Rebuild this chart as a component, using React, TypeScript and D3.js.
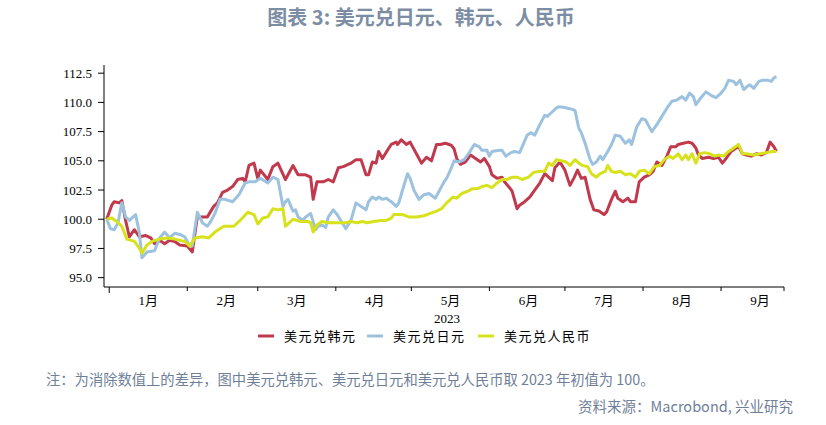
import React, {useEffect} from "react"
import * as d3 from "d3"

// days counted from 2022-12-31, values indexed to 100 at start of 2023
const krwDays = [0, 2, 3, 5, 6, 7.5, 9, 11, 13, 15.5, 17.5, 19, 21, 23, 25, 27, 29, 32, 34, 36, 38, 40, 42.5, 44, 46, 48, 50, 52, 54, 55, 56.5, 58.5, 60, 61, 64, 66, 68, 71, 74, 76, 79, 81, 82, 83.5, 86, 88, 90, 92, 94, 97, 99, 101, 103, 104, 105.5, 107, 108, 109.5, 111.5, 113, 115, 115.5, 117, 119, 120.5, 123, 125, 127, 129, 131, 132.5, 134.5, 136, 137, 138, 139, 140.5, 142.5, 144.5, 146.5, 148.5, 150, 152, 153, 155, 157, 158, 160, 161, 163, 164, 166, 168, 170, 172, 174, 175.5, 177, 178, 180, 182, 184, 185.5, 187, 188.5, 190, 192, 193.5, 195.5, 197.5, 198.5, 200.5, 202, 203, 205, 207, 208, 210, 211.5, 213.5, 215.5, 217, 218.5, 220.5, 222.5, 224, 226, 227, 229, 231, 232.5, 234, 235, 236.5, 239, 241, 243, 244.5, 246, 248, 250, 251, 252.5, 254, 256, 258, 260, 262, 263.5, 265, 266]
const krwValues = [100, 101.2, 101.5, 101.4, 101.6, 99.9, 98.5, 99.1, 98.5, 98.6, 98.4, 97.9, 98.2, 97.9, 98.2, 98.1, 97.8, 97.7, 97.2, 100.2, 100.2, 100.2, 101.1, 101.4, 102.3, 102.5, 102.8, 103.4, 103.5, 103.2, 104.6, 104.8, 103.5, 104.2, 103.4, 104.5, 104.8, 103.4, 104.6, 103.8, 103.8, 103.6, 101.7, 103.2, 103.2, 103.4, 103.2, 104.4, 104.5, 104.8, 105.1, 105.1, 103.8, 103.8, 104.9, 104.8, 105.8, 105.2, 105.9, 106.4, 106.6, 106.4, 106.8, 106.4, 106.6, 105.6, 104.8, 105.3, 105.0, 106.4, 106.4, 106.5, 106.4, 106.3, 106.0, 105.2, 104.7, 104.9, 105.5, 105.2, 104.9, 105.2, 104.5, 103.8, 103.5, 103.6, 103.2, 102.7, 102.4, 100.9, 101.2, 101.5, 101.9, 102.5, 103.1, 103.9, 103.6, 103.3, 104.4, 104.9, 104.2, 102.9, 103.5, 104.2, 103.5, 103.6, 101.7, 100.8, 100.7, 100.4, 100.6, 101.7, 102.4, 101.8, 101.5, 101.8, 101.5, 101.5, 103.2, 103.6, 103.8, 104.1, 104.9, 104.6, 105.4, 106.2, 106.2, 106.4, 106.5, 106.6, 106.5, 106.1, 105.5, 105.2, 105.3, 105.2, 105.3, 104.8, 105.2, 105.8, 106.1, 106.2, 105.6, 105.5, 105.4, 105.6, 105.5, 105.7, 106.6, 106.2, 105.8]

const jpyDays = [0, 1.5, 3, 4.5, 6, 7.5, 9, 11.5, 13, 14, 16, 19, 21, 23, 25, 27, 29, 31, 33, 34, 36, 38, 40, 41, 43, 45, 47, 50, 52.5, 55, 56.5, 59, 61, 64, 66, 68, 70, 71, 72, 74, 75, 76, 78, 79, 81, 82, 83, 84, 85.5, 87, 88, 90, 91.5, 93.5, 95, 97, 99, 101, 103, 104, 105.5, 107, 108, 109.5, 111, 113, 115, 116, 117.5, 119.5, 120.5, 122, 124, 126, 128, 130.5, 132.5, 134, 135, 136.5, 138, 140, 142, 144, 146, 148, 149, 151, 152, 153, 156, 157, 158.5, 160.5, 162, 164, 165, 167, 168.5, 170, 172, 174, 175, 177, 179, 181, 183, 185, 186, 187.5, 188.5, 190, 192, 193, 194.5, 196, 197, 199, 200.5, 202, 204, 206, 207.5, 208.5, 210.5, 212.5, 214, 216.5, 218.5, 220.5, 222.5, 224.5, 226.5, 228.5, 230, 231.5, 233, 234, 236, 238, 240, 242, 244, 245.5, 247, 249, 250, 251.5, 253, 254.5, 255.5, 257, 259, 260.5, 262.5, 264, 265, 266]
const jpyValues = [100, 99.2, 99.1, 99.7, 101.4, 100.2, 99.9, 100.4, 98.8, 96.7, 97.2, 97.3, 98.4, 98.9, 98.4, 98.8, 98.7, 98.5, 97.7, 97.7, 100.6, 99.7, 99.4, 99.7, 100.5, 101.7, 101.7, 101.5, 102.1, 103.1, 103.2, 103.2, 103.5, 103.1, 103.6, 103.4, 101.1, 101.5, 101.7, 100.7, 100.8, 100.2, 99.9, 100.2, 100.5, 99.8, 99.1, 99.4, 99.5, 99.3, 100.2, 100.8, 100.4, 99.7, 99.2, 99.9, 101.4, 101.1, 100.8, 101.5, 101.9, 101.7, 101.9, 101.7, 101.8, 101.5, 101.1, 101.4, 102.5, 103.9, 103.5, 102.5, 101.7, 102.1, 102.2, 101.8, 102.6, 103.2, 103.5, 104.2, 105.0, 104.9, 105.1, 105.7, 106.4, 106.2, 105.9, 105.9, 105.4, 105.8, 105.9, 105.9, 105.4, 105.7, 105.8, 105.7, 106.2, 107.2, 107.4, 107.2, 108.1, 108.9, 108.8, 109.2, 109.6, 109.6, 109.5, 109.4, 109.3, 107.8, 107.4, 106.5, 105.1, 104.7, 104.9, 105.4, 105.1, 105.8, 106.4, 107.2, 107.1, 106.5, 106.8, 106.4, 107.9, 108.6, 108.5, 107.5, 108.1, 108.8, 109.5, 110.1, 110.2, 110.5, 110.2, 110.8, 110.5, 109.8, 110.4, 110.9, 110.6, 110.4, 110.8, 111.2, 111.9, 111.8, 111.5, 111.9, 111.1, 111.4, 111.5, 111.2, 111.8, 111.9, 111.9, 111.8, 112.1, 112.2]

const cnyDays = [0, 2, 4, 6, 8, 11, 13, 14, 16, 18, 21, 24, 27, 31, 33, 35, 38, 40.5, 43, 46.5, 50.5, 53, 56, 58.5, 60, 62, 64, 66, 68, 70, 71, 72, 74, 77, 80, 81, 82, 83.5, 85.5, 88, 91.5, 95, 97, 99.5, 101.5, 103.5, 106, 109, 111, 113, 114, 117.5, 120, 123, 126, 128.5, 131, 133, 135, 137.5, 139, 141, 143.5, 145, 147, 149, 151, 153, 155, 157, 159, 161, 163, 165, 167.5, 169.5, 172, 174, 175.5, 177, 178.5, 180.5, 182.5, 184, 186, 187.5, 189, 191, 192.5, 194.5, 196, 198, 199, 200.5, 202, 204, 206, 208, 210, 211.5, 213.5, 215.5, 217.5, 219.5, 221.5, 223.5, 225, 227, 228.5, 230, 231, 232.5, 234, 235.5, 237.5, 239.5, 241.5, 243, 245, 247, 249, 251, 252.5, 254, 257, 259.5, 262, 264.5, 266]
const cnyValues = [100, 100.1, 99.8, 99.4, 98.3, 98.1, 97.5, 97.1, 97.8, 98.1, 98.3, 98.4, 98.3, 98.1, 97.7, 98.4, 98.5, 98.4, 98.9, 99.4, 99.4, 99.9, 100.6, 100.4, 99.6, 100.1, 100.2, 100.9, 100.8, 100.9, 99.4, 99.6, 100.0, 99.8, 99.8, 99.7, 98.9, 99.5, 99.8, 99.7, 99.7, 99.7, 99.8, 99.7, 99.8, 99.7, 99.8, 99.9, 99.9, 100.1, 100.4, 100.4, 100.2, 100.2, 100.3, 100.5, 100.7, 100.9, 101.4, 101.9, 101.8, 102.2, 102.4, 102.6, 102.6, 102.8, 102.9, 102.7, 103.1, 103.4, 103.4, 103.6, 103.6, 103.4, 103.6, 104.0, 104.1, 104.1, 104.8, 104.6, 105.1, 105.0, 104.9, 104.6, 105.1, 104.8, 104.6, 104.5, 103.9, 103.6, 103.9, 104.1, 104.6, 104.1, 104.0, 104.1, 103.8, 103.9, 103.6, 104.1, 104.2, 103.9, 104.5, 104.6, 105.1, 105.4, 105.2, 105.6, 105.1, 105.5, 105.1, 105.6, 104.8, 105.6, 105.7, 105.6, 105.4, 105.5, 105.4, 105.8, 106.1, 106.4, 105.6, 105.6, 105.5, 105.6, 105.7, 105.8, 105.8]

const seriesNames = ["美元兑韩元", "美元兑日元", "美元兑人民币"]
const seriesColors = ["#c0394c", "#9cc2df", "#d8e21c"]
const yTicks = [95, 97.5, 100, 102.5, 105, 107.5, 110, 112.5]
const monthLabels = ["1月", "2月", "3月", "4月", "5月", "6月", "7月", "8月", "9月"]

const title = "图表 3: 美元兑日元、韩元、人民币"
const note = "注：为消除数值上的差异，图中美元兑韩元、美元兑日元和美元兑人民币取 2023 年初值为 100。"
const source = "资料来源：Macrobond, 兴业研究"

const W = 826
const H = 425
const start = new Date(2022, 11, 31)
const toDate = (d: number) => new Date(start.getTime() + d * 86400000)

const App = () => {
    useEffect(() => {
        document.body.style.margin = "0"
    }, [])

    const x = d3.scaleTime()
        .domain([start, toDate(269)])
        .range([106.7, 784])
    const y = d3.scaleLinear()
        .domain([94.2, 113.2])
        .range([287, 65])

    const series = [
        d3.zip(krwDays, krwValues),
        d3.zip(jpyDays, jpyValues),
        d3.zip(cnyDays, cnyValues),
    ]

    const line = d3.line<number[]>()
        .x(d => x(toDate(d[0])))
        .y(d => y(d[1]))

    const months = d3.timeMonth.range(new Date(2023, 0, 1), new Date(2023, 8, 2))
    const xTicks = [...months.map(m => x(m)), 784]

    const serif = "'Liberation Serif', 'Times New Roman', 'Noto Sans CJK SC', serif"
    const sans = "'Noto Sans CJK SC', 'Noto Sans', sans-serif"

    const legendX = [258, 367, 478]

    return (
        <svg width={W} height={H} style={{display: "block"}}>
            <rect width={W} height={H} fill="#ffffff"/>
            <text x={421} y={25} textAnchor="middle" fontFamily={sans} fontWeight="bold"
                  fontSize={20} fill="#7c8da4">{title}</text>

            {/* y axis */}
            <line x1={104} x2={104} y1={65} y2={287} stroke="#000" strokeWidth={1}/>
            {yTicks.map(t => (
                <g key={t}>
                    <line x1={98} x2={104} y1={y(t)} y2={y(t)} stroke="#000"/>
                    <text x={92} y={y(t)} dy="0.35em" textAnchor="end" fontFamily={serif}
                          fontSize={13} fill="#000">{d3.format(".1f")(t)}</text>
                </g>
            ))}

            {/* x axis */}
            <line x1={104} x2={784} y1={287} y2={287} stroke="#000"/>
            {xTicks.map((t, i) => (
                <line key={i} x1={t} x2={t} y1={287} y2={i === 0 ? 293 : 291} stroke="#000"/>
            ))}
            {months.map((m, i) => (
                <text key={i} x={x(d3.timeHour.offset(m, 15.5 * 24))} y={305} textAnchor="middle"
                      fontFamily={serif} fontSize={13} fill="#000">{monthLabels[i]}</text>
            ))}
            <text x={447} y={323} textAnchor="middle" fontFamily={serif} fontSize={13} fill="#000">2023</text>

            {/* lines */}
            {series.map((s, i) => (
                <path key={i} d={line(s) || ""} fill="none" stroke={seriesColors[i]} strokeWidth={3}
                      strokeLinejoin="round"/>
            ))}

            {/* legend */}
            {seriesNames.map((n, i) => (
                <g key={n}>
                    <line x1={legendX[i]} x2={legendX[i] + 16} y1={336} y2={336} stroke={seriesColors[i]}
                          strokeWidth={3}/>
                    <text x={legendX[i] + 26} y={336} dy="0.35em" fontFamily={serif} fontSize={13}
                          letterSpacing={1.5} fill="#000">{n}</text>
                </g>
            ))}

            <text x={46} y={385} fontFamily={sans} fontSize={14.3} fill="#6f7f98">{note}</text>
            <text x={793} y={412} textAnchor="end" fontFamily={sans} fontSize={14.5} fill="#6f7f98">{source}</text>
        </svg>
    )
}

export default App
